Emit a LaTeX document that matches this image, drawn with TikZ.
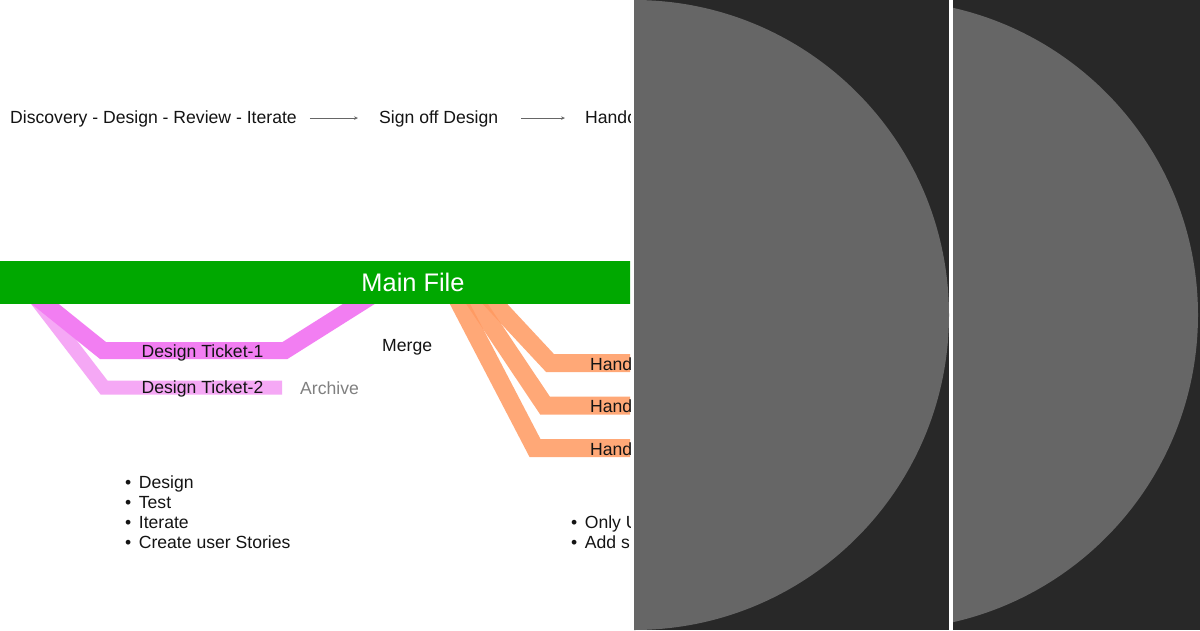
\documentclass[tikz,border=0pt]{standalone}
\usepackage{fontspec}
\setmainfont{Liberation Sans}
\usetikzlibrary{arrows.meta,positioning,calc}

\definecolor{mainGreen}{HTML}{00A800}
\definecolor{ticketPink}{HTML}{F27EF2}
\definecolor{archivePink}{HTML}{F5A8F5}
\definecolor{handoffOrange}{HTML}{FF9960}
\definecolor{panelDark}{HTML}{282828}
\definecolor{discGray}{HTML}{666666}
\definecolor{noteGray}{HTML}{808080}
\definecolor{inkDark}{HTML}{141414}

\begin{document}
\begin{tikzpicture}[
  x=1pt, y=-1pt,
  txt/.style={inner sep=0pt, anchor=base west, text=inkDark, text height=12.6pt, text depth=3.7pt, font=\fontsize{17.6}{20}\selectfont},
  note/.style={txt, text=noteGray},
  mainbar/.style={fill=mainGreen, text=white, inner sep=0pt, minimum width=826pt, minimum height=43pt, font=\fontsize{25.4}{30}\selectfont},
  flow/.style={draw=black!60, line width=0.9pt, -{Stealth[length=4pt,width=3.5pt]}},
  ticket/.style={draw=ticketPink, line width=17pt, line join=miter},
  archived/.style={draw=archivePink, line width=14pt, line join=miter},
  handoff/.style={draw=handoffOrange, draw opacity=0.85, line width=18pt, line join=miter}
]
\useasboundingbox (0,0) rectangle (1200,630);
\fill[white] (0,0) rectangle (1200,630);

\begin{scope}
  \clip (0,0) rectangle (630,630);

  % process steps
  \node[txt] (disc) at (10,123.5) {Discovery - Design - Review - Iterate};
  \node[txt] (sign) at (379,123.5) {Sign off Design};
  \node[txt] (hand) at (585,123.5) {Handoff};
  \draw[flow] ([xshift=13pt,yshift=1pt]disc.east) -- ([xshift=-21pt,yshift=1pt]sign.west);
  \draw[flow] ([xshift=23pt,yshift=1pt]sign.east) -- ([xshift=-20pt,yshift=1pt]hand.west);

  % design branches
  \coordinate (fork2) at (33,295);
  \coordinate (bend2) at (104,387.5);
  \coordinate (end2) at (282,387.5);
  \draw[archived] (fork2) -- (bend2) -- (end2);

  \coordinate (fork1) at (34,295);
  \coordinate (bend1) at (103,350.5);
  \coordinate (back1) at (285,350.5);
  \coordinate (join1) at (373,295);
  \draw[ticket] (fork1) -- (bend1) -- (back1) -- (join1);

  % handoff branches
  \foreach \fx/\bx/\y [count=\i] in {486.6/550/363, 471/545/405.5, 455.3/535/448} {
    \draw[handoff] (\fx,295) -- (\bx,\y) -- (640,\y);
  }

  \node[mainbar] (main) at (413,282.5) {Main File};

  \foreach \y [count=\i] in {370, 412.5, 455} {
    \node[txt] (hand\i) at (590,\y) {Handoff};
  }

  \node[txt] (tick1) at (141.5,357) {Design Ticket-1};
  \node[txt] (tick2) at (141.5,393) {Design Ticket-2};
  \node[note] (arch) at (300,394) {Archive};
  \node[txt] (merge) at (382,351) {Merge};

  % bullet notes
  \foreach \task [count=\i] in {Design, Test, Iterate, Create user Stories} {
    \node[txt] (task\i) at (125,468+20*\i) {\textbullet\hspace{7.5pt}\task};
  }
  \node[txt] (rule1) at (571,528) {\textbullet\hspace{7.5pt}Only U};
  \node[txt] (rule2) at (571,548) {\textbullet\hspace{7.5pt}Add s};
\end{scope}

% dark panels
\fill[panelDark] (634,0) rectangle (949,630);
\fill[panelDark] (953,0) rectangle (1200,630);
\begin{scope}
  \clip (634,0) rectangle (949,630);
  \fill[discGray] (634,315) circle[radius=315];
\end{scope}
\begin{scope}
  \clip (953,0) rectangle (1200,630);
  \fill[discGray] (883,315) circle[radius=315];
\end{scope}

\end{tikzpicture}
\end{document}
